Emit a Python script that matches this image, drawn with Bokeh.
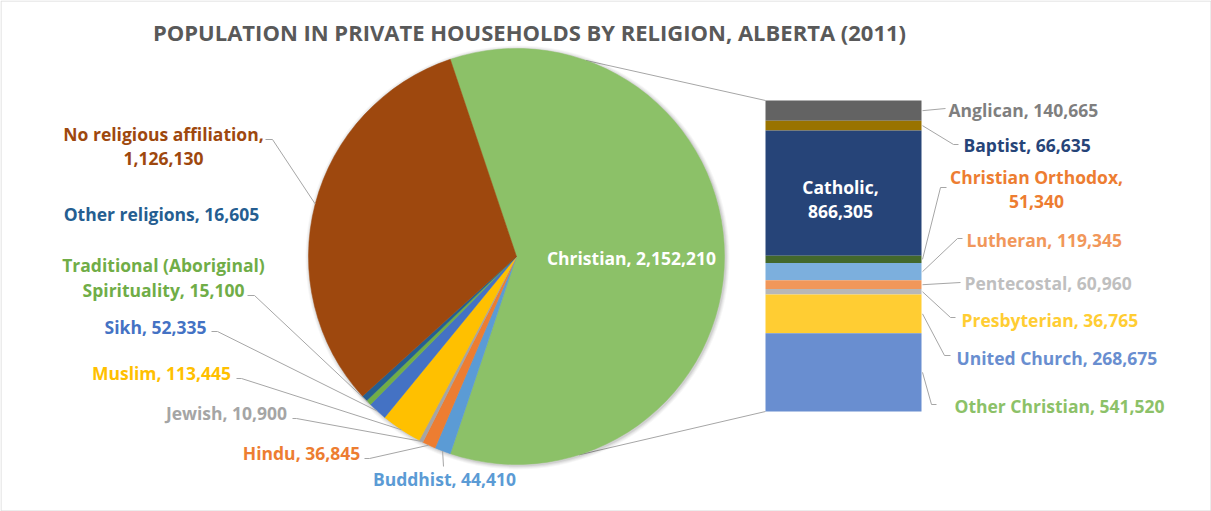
import math
from bokeh.plotting import figure
from bokeh.models import Range1d, ColumnDataSource
from bokeh.core.properties import value
from bokeh.embed import file_html
from bokeh.resources import INLINE

# ---------------- data ----------------
pie_names = ["Christian", "Buddhist", "Hindu", "Jewish", "Muslim", "Sikh",
             "Traditional (Aboriginal) Spirituality", "Other religions",
             "No religious affiliation"]
pie_values = [2152210, 44410, 36845, 10900, 113445, 52335, 15100, 16605, 1126130]
pie_colors = ["#8CC168", "#5B9BD5", "#ED7D31", "#A5A5A5", "#FFC000", "#4472C4",
              "#70AD47", "#255E91", "#9E480E"]
pie_label_colors = ["#FFFFFF", "#5B9BD5", "#ED7D31", "#A5A5A5", "#FFC000", "#4472C4",
                    "#70AD47", "#255E91", "#9E480E"]

bar_names = ["Anglican", "Baptist", "Catholic", "Christian Orthodox", "Lutheran",
             "Pentecostal", "Presbyterian", "United Church", "Other Christian"]
bar_values = [140665, 66635, 866305, 51340, 119345, 60960, 36765, 268675, 541520]
bar_colors = ["#636363", "#997300", "#264478", "#43682B", "#7CAFDD", "#F1975A",
              "#B7B7B7", "#FFCD33", "#698ED0"]
bar_label_colors = ["#7F7F7F", "#264478", "#FFFFFF", "#ED7D31", "#F1975A",
                    "#BFBFBF", "#FFCD33", "#698ED0", "#8CC168"]

title = "POPULATION IN PRIVATE HOUSEHOLDS BY RELIGION, ALBERTA (2011)"

# ---------------- layout (screen px, y downward) ----------------
W, H = 1211, 511
def Y(ys):
    return H - ys

CX, CY, R = 516, 256, 208
BAR_L, BAR_R, BAR_T, BAR_B = 765, 921, 100, 411
FONT = "Open Sans"
FS = "17.5px"

pie_layout = {
    "Christian": dict(lines=None, x=631, y=257),
    "Buddhist": dict(lines=None, x=444, y=478, leader=[(443, 466)]),
    "Hindu": dict(lines=None, x=301, y=452, leader=[(364, 458), (369, 458)]),
    "Jewish": dict(lines=None, x=226, y=412, leader=[(292, 418), (296, 418)]),
    "Muslim": dict(lines=None, x=161, y=372, leader=[(236, 378), (241, 378)]),
    "Sikh": dict(lines=None, x=155, y=326, leader=[(211, 331), (217, 331)]),
    "Traditional (Aboriginal) Spirituality": dict(lines=("Traditional (Aboriginal)", "Spirituality, {v}"),
                                                  x=163, y=264, leader=[(247, 295), (254, 295)]),
    "Other religions": dict(lines=None, x=161, y=213),
    "No religious affiliation": dict(lines=("No religious affiliation,", "{v}"),
                                     x=163, y=133, leader=[(265, 139), (272, 139)]),
}
bar_layout = {
    "Anglican": dict(lines=None, x=948, y=109, align="left", leader=[(945, 108)]),
    "Baptist": dict(lines=None, x=963, y=144, align="left", leader=[(953, 144), (958, 144)]),
    "Catholic": dict(lines=("Catholic,", "{v}"), x=840, y=186, align="center"),
    "Christian Orthodox": dict(lines=("Christian Orthodox,", "{v}"), x=1036, y=176, align="center",
                               leader=[(940, 187), (946, 187)]),
    "Lutheran": dict(lines=None, x=966, y=239, align="left", leader=[(957, 238), (962, 238)]),
    "Pentecostal": dict(lines=None, x=964, y=282, align="left", leader=[(960, 282)]),
    "Presbyterian": dict(lines=None, x=961, y=319, align="left", leader=[(950, 317), (955, 317)]),
    "United Church": dict(lines=None, x=956, y=357, align="left", leader=[(944, 355), (950, 355)]),
    "Other Christian": dict(lines=None, x=954, y=405, align="left", leader=[(931, 404), (936, 404)]),
}
LINE_GAP = 25
CONNECT_ANGLES = (70.5, -72.5)

# ---------------- figure ----------------
p = figure(width=W, height=H, x_range=Range1d(0, W), y_range=Range1d(0, H),
           output_backend="svg", toolbar_location=None, min_border=0)
p.axis.visible = False
p.grid.visible = False
p.outline_line_color = None
p.background_fill_color = "white"
p.border_fill_color = "white"

p.quad(left=[0.5], right=[W - 0.5], bottom=[0.5], top=[H - 0.5],
       fill_color=None, line_color="#D9D9D9", line_width=1)

p.text(x=[529], y=[Y(31)], text=[title], text_align="center", text_baseline="middle",
       text_font=value(FONT), text_font_style="bold", text_font_size="22px",
       text_color="#595959")

# pie angles
total = sum(pie_values)
spans = [v / total * 360 for v in pie_values]
start0 = spans[0] / 2
starts, ends, mids = [], [], []
a = start0
for s in spans:
    starts.append(a)
    ends.append(a - s)
    mids.append(a - s / 2)
    a -= s

ta, ba = CONNECT_ANGLES
p.line([CX + R * math.cos(math.radians(ta)), BAR_L], [Y(CY) + R * math.sin(math.radians(ta)), Y(BAR_T)],
       line_color="#A6A6A6", line_width=1)
p.line([CX + R * math.cos(math.radians(ba)), BAR_L], [Y(CY) + R * math.sin(math.radians(ba)), Y(BAR_B)],
       line_color="#A6A6A6", line_width=1)

for k, al in [(4, 0.03), (3, 0.04), (2, 0.05), (1, 0.07)]:
    p.circle(x=[CX + 1], y=[Y(CY) - 1], radius=R + k, fill_color="black", fill_alpha=al,
             line_color=None)

pie_src = ColumnDataSource(dict(start=[math.radians(s) for s in starts],
                                end=[math.radians(e) for e in ends],
                                color=pie_colors))
p.wedge(x=CX, y=Y(CY), radius=R, start_angle="start", end_angle="end", direction="clock",
        fill_color="color", line_color="color", line_width=0.5, source=pie_src)

btotal = sum(bar_values)
scale = (BAR_B - BAR_T) / btotal
tops, bots = [], []
cur = BAR_T
for v in bar_values:
    tops.append(cur)
    cur += v * scale
    bots.append(cur)
p.quad(left=BAR_L, right=BAR_R, top=[Y(t) for t in tops], bottom=[Y(b) for b in bots],
       fill_color=bar_colors, line_color=None)

tx, ty, tt, tc, ta_ = [], [], [], [], []
def add_label(name, val, lay, color, align="center"):
    v = f"{val:,}"
    if lay.get("lines"):
        l1, l2 = lay["lines"]
        rows = [l1.format(v=v), l2.format(v=v)]
    else:
        rows = [f"{name}, {v}"]
    for i, r in enumerate(rows):
        tx.append(lay["x"]); ty.append(Y(lay["y"] + i * LINE_GAP)); tt.append(r)
        tc.append(color); ta_.append(align)

lx, ly = [], []
for i, n in enumerate(pie_names):
    lay = pie_layout[n]
    add_label(n, pie_values[i], lay, pie_label_colors[i])
    if "leader" in lay:
        px = CX + R * math.cos(math.radians(mids[i]))
        py = Y(CY) + R * math.sin(math.radians(mids[i]))
        pts = lay["leader"]
        lx.append([q[0] for q in pts] + [px])
        ly.append([Y(q[1]) for q in pts] + [py])

for i, n in enumerate(bar_names):
    lay = bar_layout[n]
    add_label(n, bar_values[i], lay, bar_label_colors[i], lay["align"])
    if "leader" in lay:
        mid = (tops[i] + bots[i]) / 2
        pts = lay["leader"]
        lx.append([BAR_R + 1] + [q[0] for q in pts])
        ly.append([Y(mid)] + [Y(q[1]) for q in pts])

p.multi_line(xs=lx, ys=ly, line_color="#A6A6A6", line_width=1)

src = ColumnDataSource(dict(x=tx, y=ty, t=tt, c=tc, a=ta_))
p.text(x="x", y="y", text="t", text_color="c", text_align="a", text_baseline="middle",
       text_font=value(FONT), text_font_style="bold", text_font_size=FS, source=src)

open("out.html", "w").write(file_html(p, INLINE))
